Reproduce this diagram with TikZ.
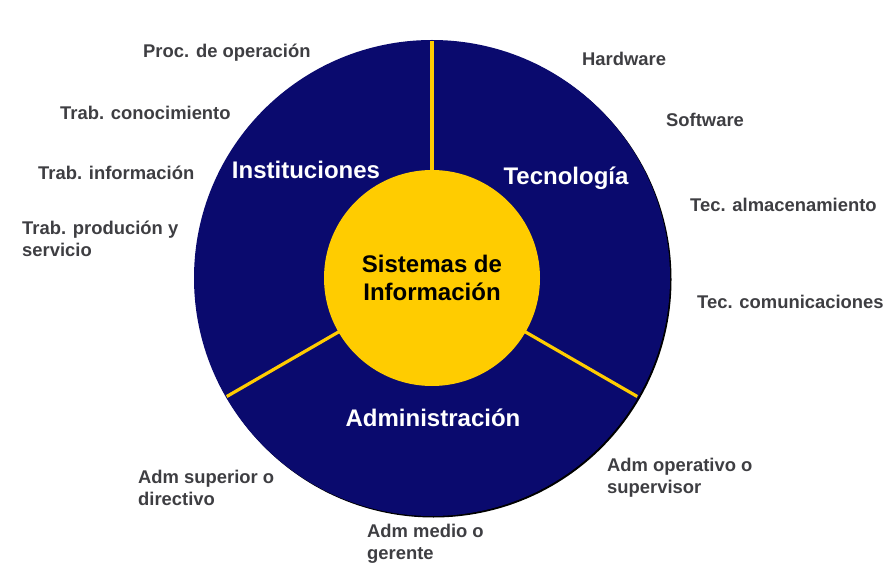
\documentclass[tikz,border=0pt]{standalone}
\usepackage{fontspec}
\setmainfont{Liberation Sans}
\usepackage{xcolor}
\usetikzlibrary{calc}
\definecolor{navy}{RGB}{10,10,110}
\definecolor{gold}{RGB}{255,204,0}
\definecolor{textgray}{RGB}{62,62,66}

\begin{document}
\begin{tikzpicture}[x=1pt,y=1pt,
    side/.style={anchor=west,inner sep=0pt,align=left,text=textgray,
      font=\fontsize{18.4}{22}\selectfont\bfseries},
    sector/.style={inner sep=0pt,align=center,text=white,
      font=\fontsize{24}{28}\selectfont\bfseries}]
  \useasboundingbox (0,0) rectangle (892,566);

  % Outer ring
  \coordinate (O) at (432,288);
  \fill[black] ($(O)+(1.5,-1.5)$) circle (238);
  \fill[navy] (O) circle (238);

  % Dividers
  \draw[gold,line width=3.2pt] ($(O)+(90:105)$) -- ($(O)+(90:237)$);
  \draw[gold,line width=3.2pt] ($(O)+(-30:105)$) -- ($(O)+(-30:237)$);
  \draw[gold,line width=3.2pt] ($(O)+(210:105)$) -- ($(O)+(210:237)$);

  % Inner circle
  \fill[gold] (O) circle (108);
  \node[sector,text=black] (si) at (O) {Sistemas de\\Información};

  % Sectors
  \node[sector] (inst) at (306,396) {Instituciones};
  \node[sector] (tec) at (566,388) {Tecnología};
  \node[sector] (adm) at (433,148) {Administración};

  % Instituciones
  \node[side] (proc) at (143,513) {Proc. de operación};
  \node[side] (conoc) at (60,453) {Trab. conocimiento};
  \node[side] (infor) at (38,393) {Trab. información};
  \node[side] (prod) at (22,327) {Trab. produción y\\servicio};

  % Tecnologia
  \node[side] (hard) at (582,507) {Hardware};
  \node[side] (soft) at (666,446) {Software};
  \node[side] (alma) at (690,361) {Tec. almacenamiento};
  \node[side] (comu) at (697,264) {Tec. comunicaciones};

  % Administracion
  \node[side] (oper) at (607,88) {Adm operativo o\\supervisor};
  \node[side] (supe) at (138,78) {Adm superior o\\directivo};
  \node[side] (medi) at (367,22) {Adm medio o\\gerente};
\end{tikzpicture}
\end{document}
